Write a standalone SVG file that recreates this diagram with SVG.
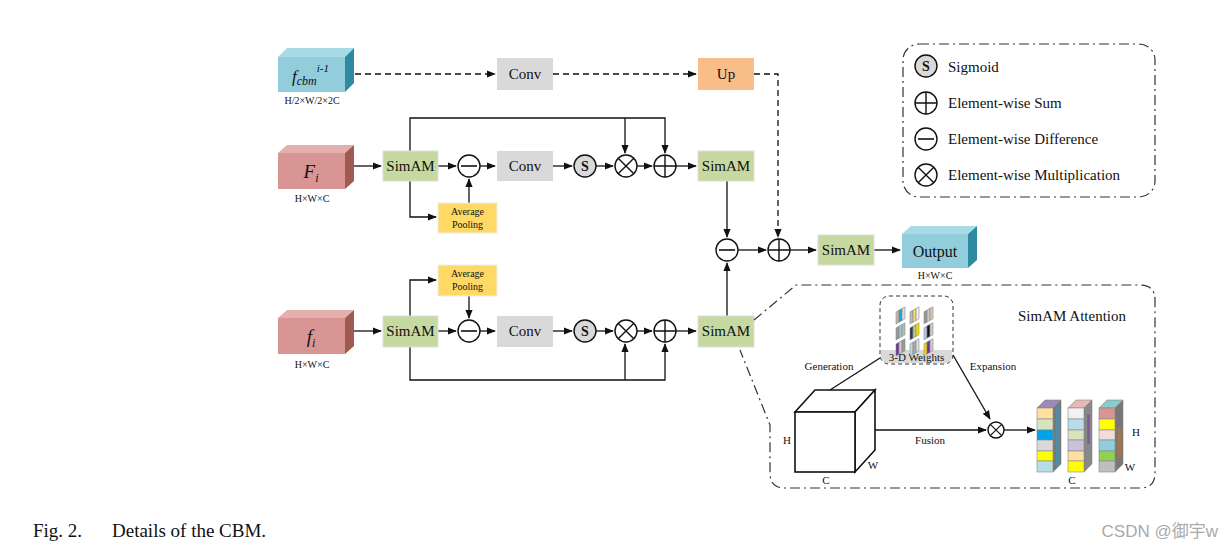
<svg xmlns="http://www.w3.org/2000/svg" width="1225" height="549" viewBox="0 0 1225 549">
<style>
text{font-family:"Liberation Serif","Times New Roman",serif;fill:#111}
.ln{stroke:#111;stroke-width:1.3;fill:none}
.dl{stroke:#111;stroke-width:1.3;fill:none;stroke-dasharray:6,4}
.dd{stroke:#333;stroke-width:1.2;fill:none;stroke-dasharray:10,4,2,4}
.sim{fill:#c6d9a0;stroke:#ddd}
.conv{fill:#d9d9d9}
.op{fill:#fff;stroke:#111;stroke-width:1.4}
.lbl{font-size:15px;text-anchor:middle}
.sm{font-size:10px;text-anchor:middle}
</style>
<defs>
<marker id="a" viewBox="0 0 10 10" refX="9" refY="5" markerWidth="7" markerHeight="7" orient="auto"><path d="M0,1 L10,5 L0,9 z" fill="#111"/></marker>
<g id="minus"><circle r="11" class="op"/><path d="M-8,0 H8" stroke="#111" stroke-width="1.6"/></g>
<g id="plus"><circle r="11" class="op"/><path d="M-11,0 H11 M0,-11 V11" stroke="#111" stroke-width="1.4"/></g>
<g id="times"><circle r="11" class="op"/><path d="M-7.8,-7.8 L7.8,7.8 M-7.8,7.8 L7.8,-7.8" stroke="#111" stroke-width="1.4"/></g>
<g id="sig"><circle r="11" fill="#d9d9d9" stroke="#111" stroke-width="1.4"/><text y="5" font-size="14" font-weight="bold" text-anchor="middle">S</text></g>
</defs>

<g id="connectors">
<path class="dl" d="M355,74 H495" marker-end="url(#a)"/>
<path class="dl" d="M553,74 H696" marker-end="url(#a)"/>
<path class="dl" d="M754,74 H778 V237" marker-end="url(#a)"/>
<path class="ln" d="M353,166 H381" marker-end="url(#a)"/>
<path class="ln" d="M438,166 H456" marker-end="url(#a)"/>
<path class="ln" d="M480,166 H495" marker-end="url(#a)"/>
<path class="ln" d="M553,166 H572" marker-end="url(#a)"/>
<path class="ln" d="M596,166 H613" marker-end="url(#a)"/>
<path class="ln" d="M637,166 H652" marker-end="url(#a)"/>
<path class="ln" d="M676,166 H696" marker-end="url(#a)"/>
<path class="ln" d="M410,151 V118 H665 V153" marker-end="url(#a)"/>
<path class="ln" d="M625,118 V153" marker-end="url(#a)"/>
<path class="ln" d="M410,181 V217 H436" marker-end="url(#a)"/>
<path class="ln" d="M469,203 V179" marker-end="url(#a)"/>
<path class="ln" d="M727,181 V237" marker-end="url(#a)"/>
<path class="ln" d="M727,316 V263" marker-end="url(#a)"/>
<path class="ln" d="M738,250 H766" marker-end="url(#a)"/>
<path class="ln" d="M790,250 H816" marker-end="url(#a)"/>
<path class="ln" d="M874,250 H900" marker-end="url(#a)"/>
<path class="ln" d="M353,331 H381" marker-end="url(#a)"/>
<path class="ln" d="M438,331 H456" marker-end="url(#a)"/>
<path class="ln" d="M480,331 H495" marker-end="url(#a)"/>
<path class="ln" d="M553,331 H572" marker-end="url(#a)"/>
<path class="ln" d="M596,331 H613" marker-end="url(#a)"/>
<path class="ln" d="M637,331 H652" marker-end="url(#a)"/>
<path class="ln" d="M676,331 H696" marker-end="url(#a)"/>
<path class="ln" d="M410,316 V280 H436" marker-end="url(#a)"/>
<path class="ln" d="M469,296 V318" marker-end="url(#a)"/>
<path class="ln" d="M410,347 V380 H665 V344" marker-end="url(#a)"/>
<path class="ln" d="M625,380 V344" marker-end="url(#a)"/>
</g>

<g id="fcbm">
<polygon points="278,57 287,48 354,48 345,57" fill="#a8dbe6"/>
<polygon points="345,57 354,48 354,83 345,92" fill="#2e8aa0"/>
<rect x="278" y="57" width="67" height="35" fill="#92cddc"/>
<text x="292" y="82" font-size="17" font-style="italic">f<tspan font-size="12" dy="3">cbm</tspan><tspan font-size="11" dy="-13">i-1</tspan></text>
<text x="312" y="104" class="sm">H/2×W/2×2C</text>
</g>
<g id="conv1"><rect x="497" y="58" width="56" height="32" class="conv"/><text x="525" y="79" class="lbl">Conv</text></g>
<g id="up"><rect x="698" y="58" width="56" height="32" fill="#f9bd8a"/><text x="726" y="79" class="lbl">Up</text></g>

<g id="Fi">
<polygon points="278,153 287,145 354,145 345,153" fill="#e3b0ae"/>
<polygon points="345,153 354,145 354,181 345,189" fill="#a05a52"/>
<rect x="278" y="153" width="67" height="36" fill="#d99594"/>
<text x="311" y="178" font-size="19" font-style="italic" text-anchor="middle">F<tspan font-size="12" dy="4">i</tspan></text>
<text x="312" y="202" class="sm">H×W×C</text>
</g>
<g id="simam1"><rect x="383" y="151" width="55" height="30" class="sim"/><text x="410.5" y="171" class="lbl">SimAM</text></g>
<g id="diff1"><use href="#minus" x="469" y="166"/></g>
<g id="pool1"><rect x="438" y="203" width="59" height="30" fill="#ffd966" stroke="#eee"/><text x="467.5" y="215" class="sm">Average</text><text x="467.5" y="228" class="sm">Pooling</text></g>
<g id="conv2"><rect x="497" y="151" width="56" height="30" class="conv"/><text x="525" y="171" class="lbl">Conv</text></g>
<g id="sig1"><use href="#sig" x="585" y="166"/></g>
<g id="mul1"><use href="#times" x="626" y="166"/></g>
<g id="sum1"><use href="#plus" x="665" y="166"/></g>
<g id="simam2"><rect x="698" y="151" width="56" height="30" class="sim"/><text x="726" y="171" class="lbl">SimAM</text></g>

<g id="diff3"><use href="#minus" x="727" y="250"/></g>
<g id="sum3"><use href="#plus" x="779" y="250"/></g>
<g id="simam5"><rect x="818" y="235" width="56" height="30" class="sim"/><text x="846" y="255" class="lbl">SimAM</text></g>
<g id="output">
<polygon points="902,234 911,226 977,226 968,234" fill="#a8dbe6"/>
<polygon points="968,234 977,226 977,260 968,268" fill="#2e8aa0"/>
<rect x="902" y="234" width="66" height="34" fill="#92cddc"/>
<text x="935" y="257" font-size="16" text-anchor="middle">Output</text>
<text x="935" y="279" class="sm">H×W×C</text>
</g>

<g id="fi">
<polygon points="278,318 287,310 354,310 345,318" fill="#e3b0ae"/>
<polygon points="345,318 354,310 354,346 345,354" fill="#a05a52"/>
<rect x="278" y="318" width="67" height="36" fill="#d99594"/>
<text x="311" y="343" font-size="19" font-style="italic" text-anchor="middle">f<tspan font-size="12" dy="4">i</tspan></text>
<text x="312" y="368" class="sm">H×W×C</text>
</g>
<g id="simam3"><rect x="383" y="316" width="55" height="31" class="sim"/><text x="410.5" y="336" class="lbl">SimAM</text></g>
<g id="pool2"><rect x="438" y="265" width="59" height="31" fill="#ffd966" stroke="#eee"/><text x="467.5" y="277" class="sm">Average</text><text x="467.5" y="290" class="sm">Pooling</text></g>
<g id="diff2"><use href="#minus" x="469" y="331"/></g>
<g id="conv3"><rect x="497" y="316" width="56" height="31" class="conv"/><text x="525" y="336" class="lbl">Conv</text></g>
<g id="sig2"><use href="#sig" x="585" y="331"/></g>
<g id="mul2"><use href="#times" x="626" y="331"/></g>
<g id="sum2"><use href="#plus" x="665" y="331"/></g>
<g id="simam4"><rect x="698" y="316" width="56" height="31" class="sim"/><text x="726" y="336" class="lbl">SimAM</text></g>

<g id="legend">
<rect x="903" y="44" width="252" height="153" rx="16" class="dd"/>
<use href="#sig" x="926" y="66"/><text x="948" y="72" font-size="15">Sigmoid</text>
<use href="#plus" x="926" y="103"/><text x="948" y="108" font-size="15">Element-wise Sum</text>
<use href="#minus" x="926" y="139"/><text x="948" y="144" font-size="15">Element-wise Difference</text>
<use href="#times" x="926" y="175"/><text x="948" y="180" font-size="15">Element-wise Multiplication</text>
</g>

<g id="simam-attention">
<path class="dd" d="M754,320 L796,285 H1140 Q1155,285 1155,300 V473 Q1155,488 1140,488 H785 Q770,488 770,473 V425 L740,350"/>
<text x="1072" y="321" font-size="15" text-anchor="middle">SimAM Attention</text>
<rect x="880" y="296" width="73" height="68" rx="9" fill="#fff" stroke="#333" stroke-dasharray="4,3"/>
<path d="M881,350 H952 V356 Q952,363 945,363 H888 Q881,363 881,356 Z" fill="#d9d9d9"/>
<text x="916.5" y="361" font-size="11" text-anchor="middle">3-D Weights</text>
<g transform="translate(896,302) skewY(-30)" stroke="#888" stroke-width="0.5">
<rect x="0" y="10" width="3" height="12" fill="#c9b8a8"/><rect x="3" y="10" width="3" height="12" fill="#1ba1e2"/><rect x="6" y="10" width="3" height="12" fill="#ddd"/>
<rect x="14" y="18" width="3" height="12" fill="#bbb"/><rect x="17" y="18" width="3" height="12" fill="#ffd966"/><rect x="20" y="18" width="3" height="12" fill="#eee"/>
<rect x="28" y="26" width="3" height="12" fill="#999"/><rect x="31" y="26" width="3" height="12" fill="#ccc"/><rect x="34" y="26" width="3" height="12" fill="#d8c8a8"/>
<rect x="0" y="26" width="3" height="12" fill="#999"/><rect x="3" y="26" width="3" height="12" fill="#9cc"/><rect x="6" y="26" width="3" height="12" fill="#bbb"/>
<rect x="14" y="34" width="3" height="12" fill="#335"/><rect x="17" y="34" width="3" height="12" fill="#a9d18e"/><rect x="20" y="34" width="3" height="12" fill="#ffd700"/>
<rect x="28" y="42" width="3" height="12" fill="#b4c7e7"/><rect x="31" y="42" width="3" height="12" fill="#112"/><rect x="34" y="42" width="3" height="12" fill="#ccc"/>
<rect x="0" y="42" width="3" height="12" fill="#7030a0"/><rect x="3" y="42" width="3" height="12" fill="#ccc"/><rect x="6" y="42" width="3" height="12" fill="#999"/>
<rect x="14" y="50" width="3" height="12" fill="#bdd"/><rect x="17" y="50" width="3" height="12" fill="#aaa"/><rect x="20" y="50" width="3" height="12" fill="#ddd"/>
<rect x="28" y="58" width="3" height="12" fill="#ffd700"/><rect x="31" y="58" width="3" height="12" fill="#7030a0"/><rect x="34" y="58" width="3" height="12" fill="#ccc"/>
</g>
<polygon points="795,412 815,390 875,390 855,412" fill="#fff" stroke="#111" stroke-width="1.6"/>
<polygon points="855,412 875,390 875,450 855,472" fill="#fff" stroke="#111" stroke-width="1.6"/>
<rect x="795" y="412" width="60" height="60" fill="#fff" stroke="#111" stroke-width="1.6"/>
<text x="787" y="444" font-size="11" text-anchor="middle">H</text>
<text x="826" y="484" font-size="11" text-anchor="middle">C</text>
<text x="873" y="469" font-size="11" text-anchor="middle">W</text>
<path class="ln" d="M830,390 L880,358"/>
<text x="829" y="370" font-size="11" text-anchor="middle">Generation</text>
<path class="ln" d="M953,355 L990,419" marker-end="url(#a)"/>
<text x="993" y="370" font-size="11" text-anchor="middle">Expansion</text>
<path class="ln" d="M875,430 H986" marker-end="url(#a)"/>
<text x="930" y="444" font-size="11" text-anchor="middle">Fusion</text>
<circle cx="996" cy="430" r="8" class="op"/><path d="M990.3,424.3 L1001.7,435.7 M990.3,435.7 L1001.7,424.3" stroke="#111" stroke-width="1.2"/>
<path class="ln" d="M1004,430 H1035" marker-end="url(#a)"/>
<g stroke="#888" stroke-width="0.6">
<g transform="translate(1037,408)">
<polygon points="0,0 8,-8 24,-8 16,0" fill="#9b8ab8"/><polygon points="16,0 24,-8 24,56 16,64" fill="#777"/>
<rect x="19" y="-2" width="3" height="60" fill="#1ba1e2" opacity="0.6"/>
<rect x="0" y="0" width="16" height="11" fill="#ffe0a0"/><rect x="0" y="11" width="16" height="11" fill="#d8e4bc"/><rect x="0" y="22" width="16" height="10" fill="#00a2e8"/><rect x="0" y="32" width="16" height="11" fill="#d9d9d9"/><rect x="0" y="43" width="16" height="10" fill="#ffff00"/><rect x="0" y="53" width="16" height="11" fill="#b7dde8"/>
</g>
<g transform="translate(1068,408)">
<polygon points="0,0 8,-8 24,-8 16,0" fill="#e6b8b7"/><polygon points="16,0 24,-8 24,56 16,64" fill="#888"/>
<rect x="19" y="6" width="3" height="30" fill="#7030a0" opacity="0.5"/>
<rect x="0" y="0" width="16" height="11" fill="#f2f2f2"/><rect x="0" y="11" width="16" height="11" fill="#b7dde8"/><rect x="0" y="22" width="16" height="10" fill="#d8e4bc"/><rect x="0" y="32" width="16" height="11" fill="#ccc0da"/><rect x="0" y="43" width="16" height="10" fill="#ffe0a0"/><rect x="0" y="53" width="16" height="11" fill="#ffff00"/>
</g>
<g transform="translate(1099,408)">
<polygon points="0,0 8,-8 24,-8 16,0" fill="#8cc"/><polygon points="16,0 24,-8 24,56 16,64" fill="#777"/>
<rect x="19" y="20" width="3" height="30" fill="#e36c09" opacity="0.6"/>
<rect x="0" y="0" width="16" height="11" fill="#d99594"/><rect x="0" y="11" width="16" height="11" fill="#ffff00"/><rect x="0" y="22" width="16" height="10" fill="#f2dcdb"/><rect x="0" y="32" width="16" height="11" fill="#92cddc"/><rect x="0" y="43" width="16" height="10" fill="#92d050"/><rect x="0" y="53" width="16" height="11" fill="#bfbfbf"/>
</g>
</g>
<text x="1072" y="484" font-size="11" text-anchor="middle">C</text>
<text x="1136" y="436" font-size="11" text-anchor="middle">H</text>
<text x="1130" y="471" font-size="11" text-anchor="middle">W</text>
</g>

<text x="33" y="537" font-size="19">Fig. 2.</text>
<text x="112" y="537" font-size="19">Details of the CBM.</text>
<text x="1218" y="537" font-size="17" text-anchor="end" style="font-family:'Liberation Sans','Noto Sans CJK SC',sans-serif;fill:#aaa">CSDN @御宇w</text>
</svg>
